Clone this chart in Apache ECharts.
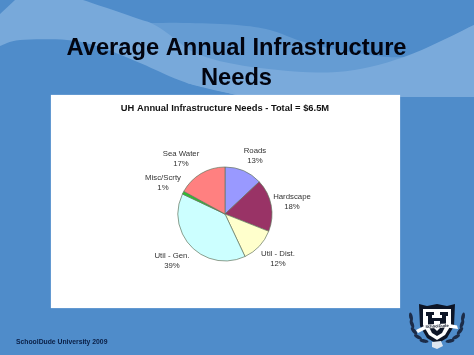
<!DOCTYPE html>
<html><head><meta charset="utf-8">
<style>html,body{margin:0;padding:0;background:#4f8cca}#c{width:474px;height:355px}</style>
<script src="https://cdn.jsdelivr.net/npm/echarts@6/dist/echarts.min.js"></script>
</head><body><div id="c"></div>
<script>
const categories = ['Roads','Hardscape','Util - Dist.','Util - Gen.','Misc/Scrty','Sea Water'];
const values = [13,18,12,39,1,17];
const colors = ['#9999ff','#993366','#ffffcc','#ccffff','#2fc02f','#ff8080'];
const pageTitle = 'Average Annual Infrastructure\nNeeds';
const chartTitle = 'UH Annual Infrastructure Needs - Total = $6.5M';
const footer = 'SchoolDude University 2009';
const labelSpots = {'Roads':[255,156],'Hardscape':[292,202],'Util - Dist.':[278,259],'Util - Gen.':[172,261],'Misc/Scrty':[163,183],'Sea Water':[181,159]};

function poly(points,fill,z){return {type:'polygon',z:z||1,silent:true,shape:{points},style:{fill}};}
function curve(pts,n){
  const out=[];
  for(let i=0;i<pts.length-1;i++){
    const a=pts[Math.max(0,i-1)],b=pts[i],c=pts[i+1],d=pts[Math.min(pts.length-1,i+2)];
    for(let k=0;k<n;k++){const t=k/n,t2=t*t,t3=t2*t;
      out.push([0,1].map(j=>0.5*(2*b[j]+(c[j]-a[j])*t+(2*a[j]-5*b[j]+4*c[j]-d[j])*t2+(3*b[j]-a[j]-3*c[j]+d[j])*t3)));}
  }
  out.push(pts[pts.length-1]);return out;
}
const bg=[
 {type:'rect',z:0,silent:true,shape:{x:0,y:0,width:474,height:355},style:{fill:'#4f8cca'}},
 poly(curve([[140,23],[190,23],[237,25],[270,30],[304,42],[350,52],[404,57],[440,42],[474,25]],8)
   .concat([[474,97],[400,97],[237,95],[187,83]]),'#659cd3',1),
 poly(curve([[160,30],[200,55],[260,68],[337,72],[404,57],[474,25]],8)
   .concat([[474,97],[400,97],[237,95],[187,83]]),'#7aaadb',2),
 poly([[15,0],[83,0]].concat(curve([[83,0],[133,17],[160,28],[200,60],[237,95]],8))
   .concat(curve([[237,95],[187,83],[140,63],[100,47],[67,40],[20,40],[0,46]],8)).concat([[0,14]]),'#78a9da',3),
 {type:'rect',z:4,silent:true,shape:{x:51,y:95,width:349,height:213},style:{fill:'#ffffff',shadowBlur:1,shadowColor:'#c9ddf0'}},
 {type:'text',z:5,silent:true,x:236.5,y:63,style:{text:pageTitle,fill:'#02040f',font:'bold 23.7px "Liberation Sans", Arial, sans-serif',lineHeight:30,align:'center',verticalAlign:'middle'}},
 {type:'text',z:5,silent:true,x:225,y:108,style:{text:chartTitle,fill:'#111111',font:'bold 9.35px "Liberation Sans", Arial, sans-serif',align:'center',verticalAlign:'middle'}},
 {type:'text',z:5,silent:true,x:16,y:342,style:{text:footer,fill:'#0a1e44',font:'bold 6.8px "Liberation Sans", Arial, sans-serif',align:'left',verticalAlign:'middle'}},
];
const ink='#0d1526', leafInk='#1c2c48';
const crest=[];
function leaf(x,y,rot){return {type:'ellipse',z:5,silent:true,x,y,rotation:rot,shape:{cx:0,cy:0,rx:1.8,ry:4.5},style:{fill:leafInk}};}
const cx=437;
[[-26,-10,.2],[-25,-3,.35],[-23,4,.7],[-19,10,1.05],[-13,14,1.4]].forEach(([dx,dy,r])=>{
  crest.push(leaf(cx+dx,327+dy,r)); crest.push(leaf(cx-dx,327+dy,-r));
});
const fillInk=(pts,fill,z)=>poly(pts.map(([a,b])=>[cx+a,b]),fill,z||6);
crest.push(
 fillInk([[-18,304],[-10,306],[0,304],[10,306],[18,304],[17,326],[10,338],[0,344],[-10,338],[-17,326]],ink,6),
 fillInk([[-14,309],[14,309],[14,325],[8,335],[0,340],[-8,335],[-14,325]],'#ffffff',7),
 fillInk([[-11,312],[-3,312],[-3,315],[-5,315],[-5,318],[5,318],[5,315],[3,315],[3,312],[11,312],[11,316],[9,316],[9,325],[5,333],[0,336],[-5,333],[-9,325],[-9,316],[-11,316]],ink,8),
 fillInk([[-3,321],[3,321],[3,328],[0,331],[-3,328]],'#ffffff',9),
 fillInk([[-21,330],[-10,324.5],[10,323.5],[20,325.5],[21,329],[10,327.5],[-10,328.5],[-19,333]],'#ffffff',10),
 fillInk([[-5,342],[4,341],[6,346],[0,349],[-5,347]],'#dfe7f0',10),
 {type:'text',z:11,silent:true,x:cx,y:326.3,rotation:0.05,style:{text:'SchoolDude',fill:ink,font:'bold 4px "Liberation Sans", Arial, sans-serif',align:'center',verticalAlign:'middle'}}
);
const chart=echarts.init(document.getElementById('c'),null,{renderer:'canvas'});
chart.setOption({
 animation:false,
 backgroundColor:'#4f8cca',
 color:colors,
 graphic:{elements:bg.concat(crest)},
 series:[{
  type:'pie',z:6,center:[225,214],radius:[0,47],startAngle:90,clockwise:true,silent:true,
  data:categories.map((name,i)=>({name,value:values[i]})),
  itemStyle:{borderColor:'#66755f',borderWidth:0.7},
  label:{show:true,position:'outside',formatter:'{b}\n{d}%',color:'#333333',fontFamily:'"Liberation Sans", Arial, sans-serif',fontSize:7.8,lineHeight:10.5,align:'center'},
  labelLine:{show:false},
  labelLayout:function(params){
    const s=labelSpots[categories[params.dataIndex]];
    return {x:s[0],y:s[1],align:'center',verticalAlign:'middle'};
  },
  percentPrecision:0,
 }]
});
</script></body></html>
